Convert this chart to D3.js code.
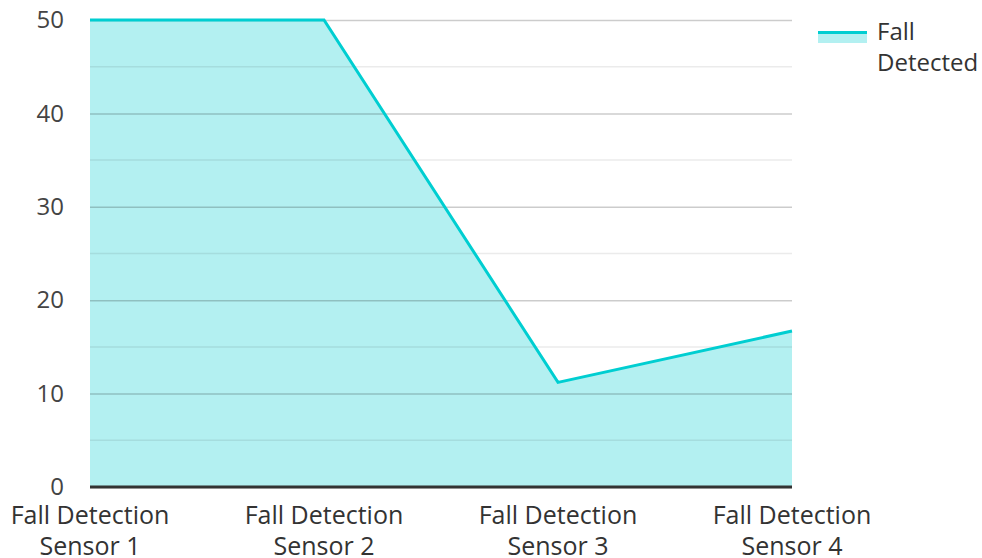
<!DOCTYPE html>
<html>
<head>
<meta charset="utf-8">
<script src="https://cdn.jsdelivr.net/npm/d3@7"></script>
<style>
  body { margin: 0; background: #fff; }
  text { font-family: "Open Sans", sans-serif; fill: #333; }
</style>
</head>
<body>
<div id="chart"></div>
<script>
// chart data
var sensors = ["Fall Detection Sensor 1", "Fall Detection Sensor 2", "Fall Detection Sensor 3", "Fall Detection Sensor 4"];
var fallDetected = [50, 50, 11.2, 16.7];
var yTicks = [0, 10, 20, 30, 40, 50];
var seriesName = "Fall Detected";

var svgWidth = 982;
var svgHeight = 558;
var margin = { top: 20, right: 190, bottom: 71, left: 90 };
var chartWidth = svgWidth - margin.left - margin.right;
var chartHeight = svgHeight - margin.top - margin.bottom;

var svg = d3.select("#chart")
    .append("svg")
    .attr("width", svgWidth)
    .attr("height", svgHeight);

var chartGroup = svg.append("g")
    .attr("transform", `translate(${margin.left}, ${margin.top})`);

var xScale = d3.scalePoint()
    .domain(sensors)
    .range([0, chartWidth]);
var yScale = d3.scaleLinear()
    .domain([0, 50])
    .range([chartHeight, 0]);

var data = sensors.map((s, i) => ({ sensor: s, value: fallDetected[i] }));

// area fill
var area = d3.area()
    .x(d => xScale(d.sensor))
    .y0(yScale(0))
    .y1(d => yScale(d.value));
chartGroup.append("path")
    .datum(data)
    .attr("d", area)
    .style("fill", "#b3f0f1");

// gridlines (minor every 5, major every 10) drawn over the fill
chartGroup.append("g")
    .selectAll("line")
    .data(d3.range(5, 50, 10))
    .enter()
    .append("line")
    .attr("x1", 0)
    .attr("x2", chartWidth)
    .attr("y1", d => yScale(d))
    .attr("y2", d => yScale(d))
    .style("stroke", "#000")
    .style("stroke-opacity", 0.08)
    .style("stroke-width", 1.5);

var leftAxis = d3.axisLeft(yScale)
    .tickValues(yTicks)
    .tickSize(-chartWidth)
    .tickPadding(26);
var yAxisG = chartGroup.append("g").call(leftAxis);
yAxisG.select(".domain").remove();
yAxisG.selectAll(".tick line")
    .style("stroke", "#000")
    .style("stroke-opacity", 0.2)
    .style("stroke-width", 1.5);
yAxisG.selectAll(".tick text")
    .style("font-family", "'Open Sans', sans-serif")
    .style("font-size", "24px")
    .style("fill", "#444");

// line
var line = d3.line()
    .x(d => xScale(d.sensor))
    .y(d => yScale(d.value));
chartGroup.append("path")
    .datum(data)
    .attr("d", line)
    .style("fill", "none")
    .style("stroke", "#00ced1")
    .style("stroke-width", 3);

// baseline
chartGroup.append("line")
    .attr("x1", 0)
    .attr("x2", chartWidth)
    .attr("y1", yScale(0))
    .attr("y2", yScale(0))
    .style("stroke", "#333")
    .style("stroke-width", 3);

// x labels in two lines
var xLabels = chartGroup.append("g")
    .selectAll("text")
    .data(sensors)
    .enter()
    .append("text")
    .attr("x", d => xScale(d))
    .attr("y", chartHeight + 37)
    .style("text-anchor", "middle")
    .style("font-size", "25px")
    .style("fill", "#333");
xLabels.append("tspan")
    .attr("x", d => xScale(d))
    .text(d => d.split(" ").slice(0, 2).join(" "));
xLabels.append("tspan")
    .attr("x", d => xScale(d))
    .attr("dy", 31)
    .text(d => d.split(" ").slice(2).join(" "));

// legend
var legend = svg.append("g").attr("transform", "translate(818, 31)");
legend.append("rect")
    .attr("x", 0)
    .attr("y", 0)
    .attr("width", 49)
    .attr("height", 12)
    .style("fill", "#b3f0f1");
legend.append("line")
    .attr("x1", 0)
    .attr("x2", 49)
    .attr("y1", 1.5)
    .attr("y2", 1.5)
    .style("stroke", "#00ced1")
    .style("stroke-width", 3);
var legendText = legend.append("text")
    .attr("x", 59)
    .attr("y", 9)
    .style("font-size", "24px")
    .style("fill", "#333");
legendText.append("tspan").attr("x", 59).text(seriesName.split(" ")[0]);
legendText.append("tspan").attr("x", 59).attr("dy", 31).text(seriesName.split(" ")[1]);
</script>
</body>
</html>
